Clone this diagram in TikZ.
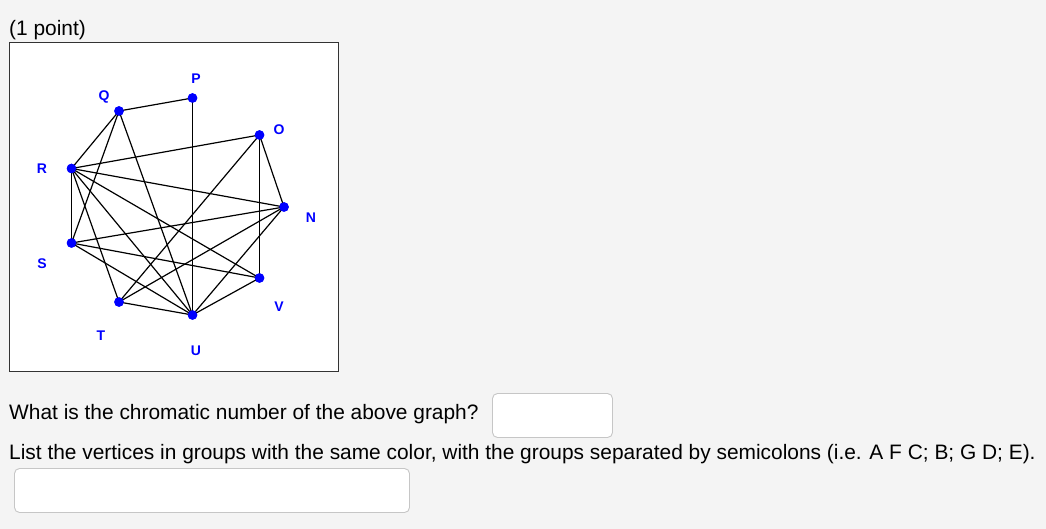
\documentclass[tikz,border=0pt]{standalone}
\usepackage{fontspec}
\setmainfont{Liberation Sans}
\begin{document}
\begin{tikzpicture}[x=1pt,y=-1pt,
  vert/.style={circle,fill=vblue,inner sep=0pt,minimum size=9.5pt},
  vlab/.style={text=vblue,font=\fontsize{14}{14}\selectfont\bfseries,inner sep=0pt},
  edge/.style={draw=black,line width=1.2pt},
  qtext/.style={anchor=west,inner sep=0pt,font=\fontsize{20.9}{24}\selectfont},
  inbox/.style={draw=gray!45,fill=white,rounded corners=5pt,line width=0.9pt}]
\definecolor{vblue}{RGB}{0,0,255}
\definecolor{bg}{RGB}{244,244,244}
\fill[bg] (0,0) rectangle (1046,529);
\useasboundingbox (0,0) rectangle (1046,529);
\node[qtext] (pts) at (9,30) {(1 point)};
\draw[fill=white,draw=black!80,line width=1pt] (9.5,42.5) rectangle (338,371);
% vertices
\node[vert] (P) at (192.5,98) {};
\node[vert] (Q) at (119,111) {};
\node[vert] (O) at (259.5,135) {};
\node[vert] (R) at (71.5,168.5) {};
\node[vert] (N) at (284,207) {};
\node[vert] (S) at (71.5,243) {};
\node[vert] (V) at (259.5,278) {};
\node[vert] (T) at (119,302) {};
\node[vert] (U) at (192.5,315) {};
% labels
\node[vlab] (lP) at (196,79) {P};
\node[vlab] (lQ) at (104,97) {Q};
\node[vlab] (lO) at (279,130) {O};
\node[vlab] (lR) at (42,169) {R};
\node[vlab] (lN) at (311,218) {N};
\node[vlab] (lS) at (42,264) {S};
\node[vlab] (lV) at (279,307) {V};
\node[vlab] (lT) at (101,336) {T};
\node[vlab] (lU) at (196,351) {U};
% edges
\foreach \a/\b in {Q/P,P/U,Q/R,Q/S,Q/U,R/O,R/N,R/S,R/T,R/U,R/V,O/N,O/V,O/T,N/S,N/T,N/U,S/V,S/U,T/U,V/U}
  \draw[edge] (\a.center) -- (\b.center);
% redraw vertices on top
\foreach \v in {P,Q,O,R,N,S,V,T,U}
  \fill[vblue] (\v.center) circle (4.75);
\node[qtext] (q1) at (9,414) {What is the chromatic number of the above graph?};
\draw[inbox] (492.5,393.5) rectangle (612.5,437.5);
\node[qtext] (q2) at (9,454) {List the vertices in groups with the same color, with the groups separated by semicolons (i.e. A F C; B; G D; E).};
\draw[inbox] (14.5,468.5) rectangle (409.5,512.5);
\end{tikzpicture}
\end{document}
